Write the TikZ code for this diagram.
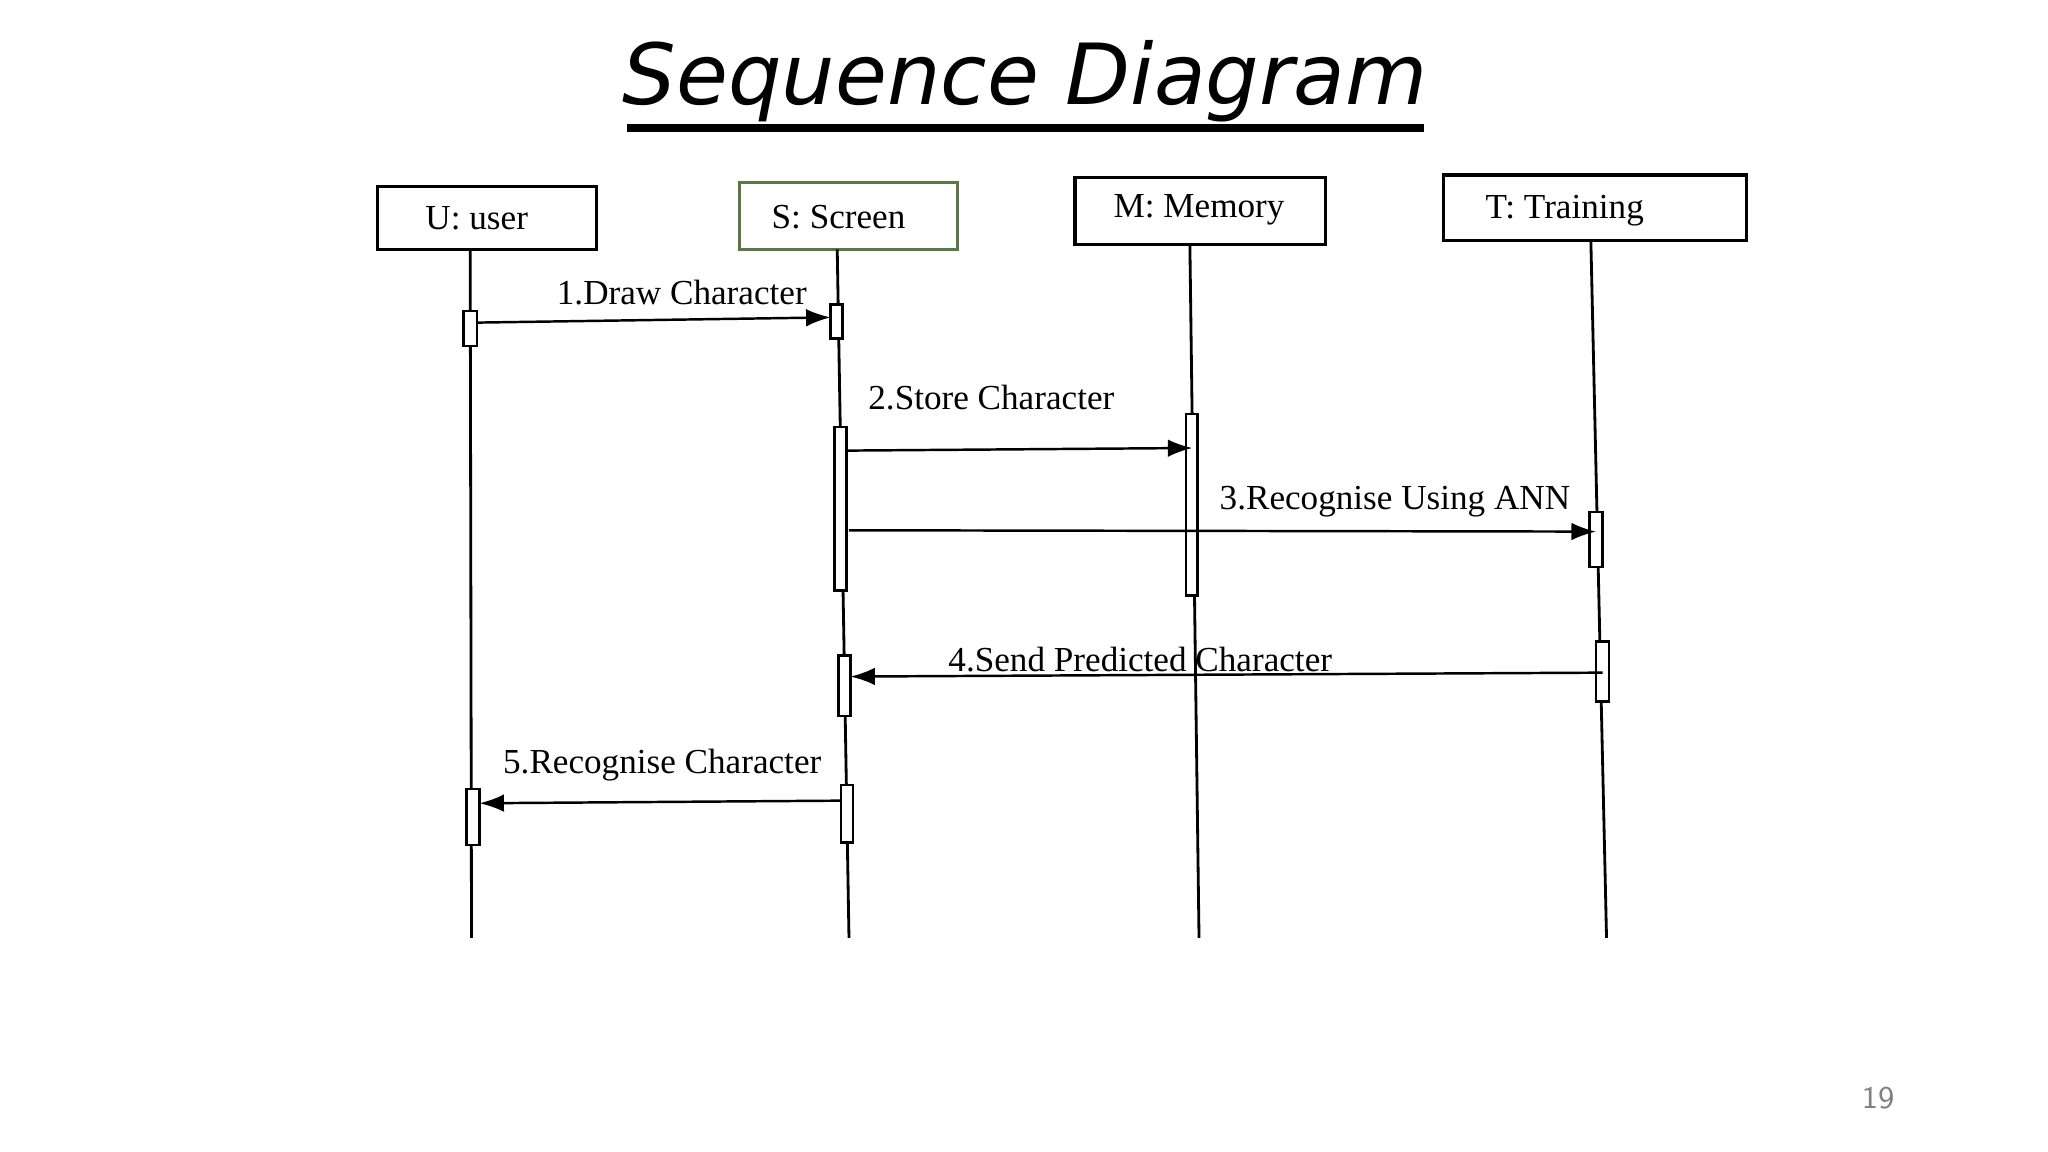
\documentclass[tikz,border=0pt]{standalone}
\usepackage{fontspec}
\setmainfont{Liberation Serif}
\newfontfamily\titlefont{DejaVu Sans}
\usetikzlibrary{arrows.meta}
\begin{document}
\begin{tikzpicture}[x=0.01306cm,y=-0.01306cm,
  obj/.style={draw,line width=0.9pt},
  act/.style={draw,fill=white,line width=0.7pt},
  life/.style={line width=0.8pt},
  msg/.style={line width=0.7pt,-{Latex[length=7pt,width=5pt]}},
  lbl/.style={font=\fontsize{10}{12}\selectfont,inner sep=0pt}]
\useasboundingbox (0,0) rectangle (1568,882);
\node[font=\titlefont\itshape\fontsize{24}{28}\selectfont,inner sep=0pt] (title) at (785,62) {Sequence Diagram};
\draw[line width=2.2pt] (480,98) -- (1090,98);
% objects
\draw[obj] (289,143) rectangle (457,191); \node[lbl] (Ut) at (365,167) {U: user};
\draw[obj,draw={rgb,255:red,90;green,120;blue,70}] (566,140) rectangle (733,191); \node[lbl] (St) at (642,166) {S: Screen};
\draw[obj] (823,136) rectangle (1015,187); \node[lbl] (Mt) at (918,161) {M: Memory};
\draw[obj] (1105,134) rectangle (1337,184); \node[lbl] (Tt) at (1198,161) {T: Training};
% lifelines
\coordinate (u0) at (360,191); \coordinate (u1) at (361,718);
\coordinate (s0) at (641,191); \coordinate (s1) at (650,718);
\coordinate (m0) at (911,187); \coordinate (m1) at (918,718);
\coordinate (t0) at (1218,184); \coordinate (t1) at (1230,718);
\draw[life] (u0)--(u1); \draw[life] (s0)--(s1); \draw[life] (m0)--(m1); \draw[life] (t0)--(t1);
% activations
\draw[act] (355,238) rectangle (365,265);
\draw[act] (636,233) rectangle (645,259);
\draw[act] (639,327) rectangle (648,452);
\draw[act] (908,317) rectangle (917,456);
\draw[act] (1217,392) rectangle (1227,434);
\draw[act] (1222,491) rectangle (1232,537);
\draw[act] (642,502) rectangle (651,548);
\draw[act] (644,601) rectangle (653,645);
\draw[act] (357,604) rectangle (367,647);
% messages
\coordinate (m1a) at (365,247); \coordinate (m1b) at (636,243);
\coordinate (m2a) at (648,345); \coordinate (m2b) at (913,343);
\coordinate (m3a) at (650,406); \coordinate (m3b) at (1222,407);
\coordinate (m4a) at (1227,515); \coordinate (m4b) at (651,518);
\coordinate (m5a) at (644,613); \coordinate (m5b) at (367,615);
\draw[msg] (m1a)--(m1b); \draw[msg] (m2a)--(m2b); \draw[msg] (m3a)--(m3b);
\draw[msg] (m4a)--(m4b); \draw[msg] (m5a)--(m5b);
\node[lbl] (l1) at (522,224) {1.Draw Character};
\node[lbl] (l2) at (759,304) {2.Store Character};
\node[lbl] (l3) at (1068,384) {3.Recognise Using ANN};
\node[lbl] (l4) at (873,505) {4.Send Predicted Character};
\node[lbl] (l5) at (507,586) {5.Recognise Character};
\node[font=\sffamily\fontsize{9}{10}\selectfont,text=gray] (pg) at (1438,841) {19};
\end{tikzpicture}
\end{document}
